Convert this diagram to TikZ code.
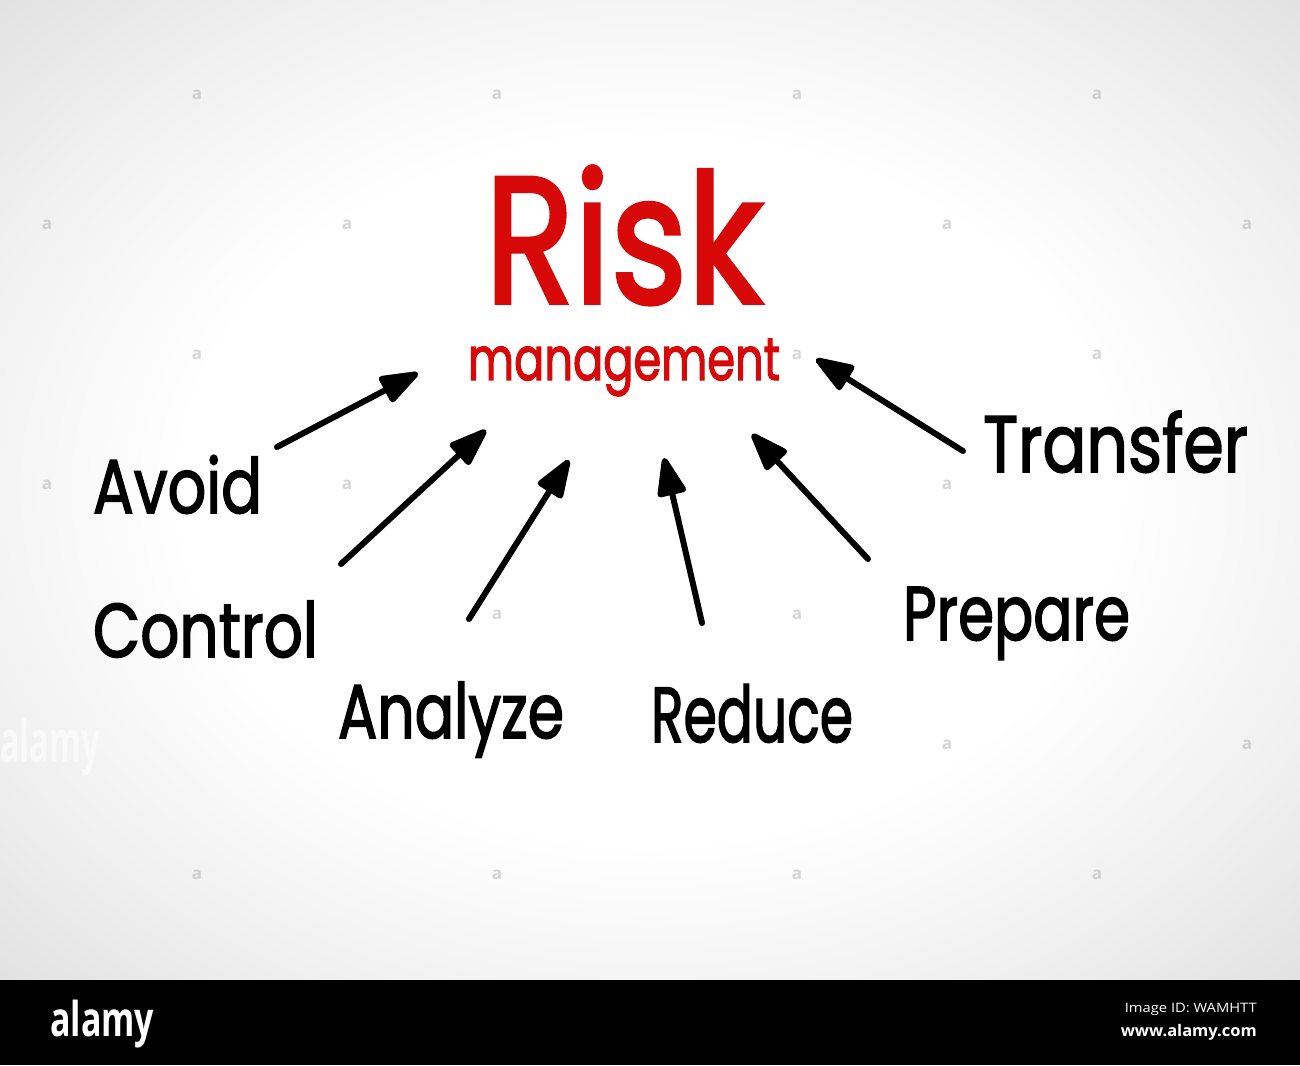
\documentclass[tikz,border=0pt]{standalone}
\usepackage{graphicx}
\usepackage{fontspec}
\setmainfont{Poppins}
\newfontfamily\hand{Poppins}[FakeBold=2.2]
\newfontfamily\wmfont{Open Sans}
\usetikzlibrary{arrows.meta}
\definecolor{riskred}{RGB}{214,8,8}
\pgfdeclareradialshading{vign}{\pgfpoint{0bp}{0bp}}{color(0bp)=(white);color(18bp)=(white);color(28bp)=(black!6);color(36bp)=(black!12);color(50bp)=(black!18);color(72bp)=(black!22)}
\newcommand{\fitto}[2]{\resizebox{#1}{\height}{#2}}
\begin{document}
\begin{tikzpicture}[x=1pt,y=-1pt,
  word/.style={anchor=base west,inner sep=0pt,outer sep=0pt,text=black},
  pointer/.style={line width=6pt,line cap=round,-{Triangle[length=44pt,width=30pt,round]}},
  wmark/.style={inner sep=0pt,text=black!45,text opacity=0.35,font=\wmfont\bfseries\fontsize{17}{17}\selectfont},
]
\useasboundingbox (0,0) rectangle (1300,1065);
\shade[shading=vign] (0,0) rectangle (1300,980);
\fill[black] (0,980) rectangle (1300,1065);

% faint watermark marks
\foreach \x/\y in {197/95,497/95,797/95,1097/95,
                   47/225,347/225,947/225,1247/225,
                   197/355,797/355,1097/355,
                   47/485,347/485,947/485,
                   497/615,797/615,
                   947/745,1247/745,
                   197/875,497/875,797/875,1097/875}{\node[wmark] (wm-\x-\y) at (\x,\y) {a};}
\node[anchor=base west,inner sep=0pt,text=white,text opacity=0.6,font=\wmfont\bfseries\fontsize{58}{58}\selectfont] (wmleft) at (0,762) {\fitto{100pt}{alamy}};

% title
\node[word,text=riskred,font=\hand\fontsize{180}{180}\selectfont] (risk) at (485,303) {\fitto{278pt}{Risk}};
\node[word,text=riskred,font=\hand\fontsize{60}{60}\selectfont] (mgmt) at (468,380) {\fitto{312pt}{management}};

% labels
\node[word,font=\hand\fontsize{76}{76}\selectfont] (avoid) at (93,513) {\fitto{169pt}{Avoid}};
\node[word,font=\hand\fontsize{76}{76}\selectfont] (control) at (93,657) {\fitto{225pt}{Control}};
\node[word,font=\hand\fontsize{76}{76}\selectfont] (analyze) at (338,738) {\fitto{226pt}{Analyze}};
\node[word,font=\hand\fontsize{78}{78}\selectfont] (reduce) at (651,742) {\fitto{202pt}{Reduce}};
\node[word,font=\hand\fontsize{76}{76}\selectfont] (prepare) at (903,640) {\fitto{227pt}{Prepare}};
\node[word,font=\hand\fontsize{80}{80}\selectfont] (transfer) at (983,472) {\fitto{265pt}{Transfer}};

% arrow end points
\coordinate (t1) at (277,447); \coordinate (h1) at (418,373);
\coordinate (t2) at (341,564); \coordinate (h2) at (486,430);
\coordinate (t3) at (469,619); \coordinate (h3) at (569,460);
\coordinate (t4) at (702,623); \coordinate (h4) at (664,458);
\coordinate (t5) at (868,559); \coordinate (h5) at (752,434);
\coordinate (t6) at (963,451); \coordinate (h6) at (816,359);
\foreach \i in {1,...,6}{\draw[pointer] (t\i) -- (h\i);}

% bottom bar
\node[anchor=base west,inner sep=0pt,text=white,font=\wmfont\bfseries\fontsize{48}{48}\selectfont] (alamy) at (50,1036) {\fitto{104pt}{alamy}};
\node[anchor=base east,inner sep=0pt,text=white,font=\wmfont\fontsize{13}{13}\selectfont] (imgid) at (1257,1012) {\fitto{132pt}{Image ID: WAMHTT}};
\node[anchor=base east,inner sep=0pt,text=white,font=\wmfont\bfseries\fontsize{16}{16}\selectfont] (url) at (1257,1036) {\fitto{136pt}{www.alamy.com}};
\end{tikzpicture}
\end{document}
